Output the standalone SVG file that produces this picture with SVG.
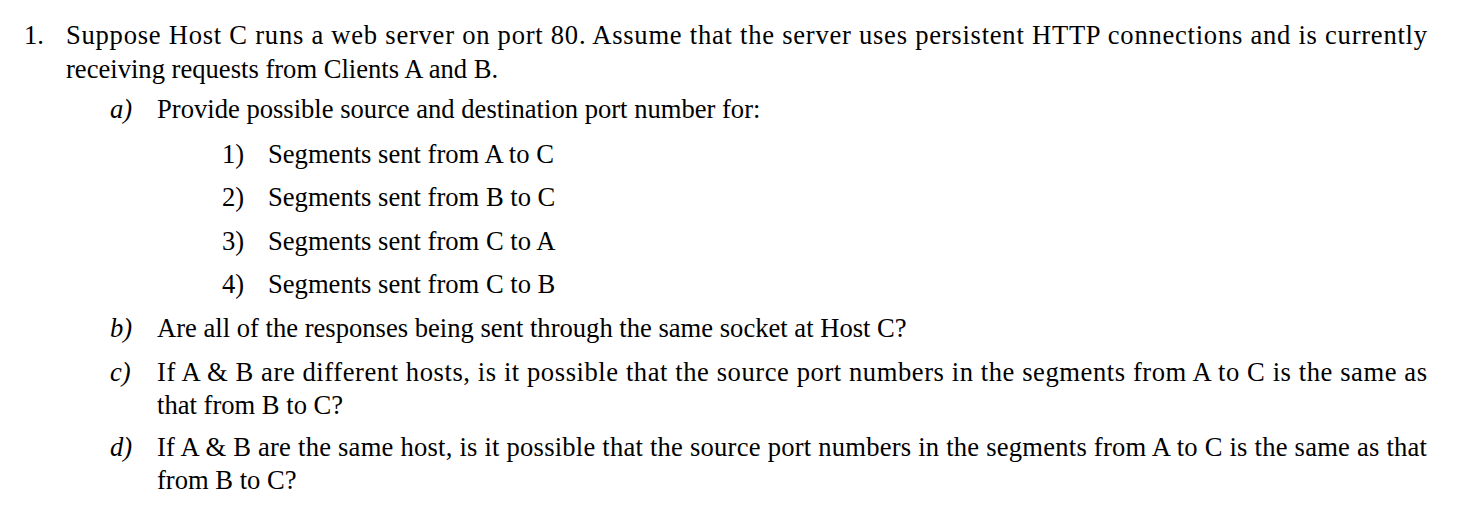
<svg xmlns="http://www.w3.org/2000/svg" width="1480" height="512" viewBox="0 0 1480 512">
<style>
text{font-family:"Liberation Serif","Times New Roman",serif;font-size:26.6px;fill:#000}
.i{font-style:italic}
</style>
<rect width="1480" height="512" fill="#fff"/>
<text x="24" y="44">1.</text>
<text x="66" y="44" textLength="1361" lengthAdjust="spacing">Suppose Host C runs a web server on port 80. Assume that the server uses persistent HTTP connections and is currently</text>
<text x="66" y="78">receiving requests from Clients A and B.</text>
<text class="i" x="110" y="118">a)</text>
<text x="157" y="118">Provide possible source and destination port number for:</text>
<text x="222" y="163">1)</text><text x="268" y="163">Segments sent from A to C</text>
<text x="222" y="206">2)</text><text x="268" y="206">Segments sent from B to C</text>
<text x="222" y="250">3)</text><text x="268" y="250">Segments sent from C to A</text>
<text x="222" y="293">4)</text><text x="268" y="293">Segments sent from C to B</text>
<text class="i" x="110" y="337">b)</text>
<text x="157" y="337">Are all of the responses being sent through the same socket at Host C?</text>
<text class="i" x="110" y="381">c)</text>
<text x="157" y="381" textLength="1270" lengthAdjust="spacing">If A &amp; B are different hosts, is it possible that the source port numbers in the segments from A to C is the same as</text>
<text x="157" y="414">that from B to C?</text>
<text class="i" x="110" y="456">d)</text>
<text x="157" y="456" textLength="1270" lengthAdjust="spacing">If A &amp; B are the same host, is it possible that the source port numbers in the segments from A to C is the same as that</text>
<text x="157" y="489">from B to C?</text>
</svg>
